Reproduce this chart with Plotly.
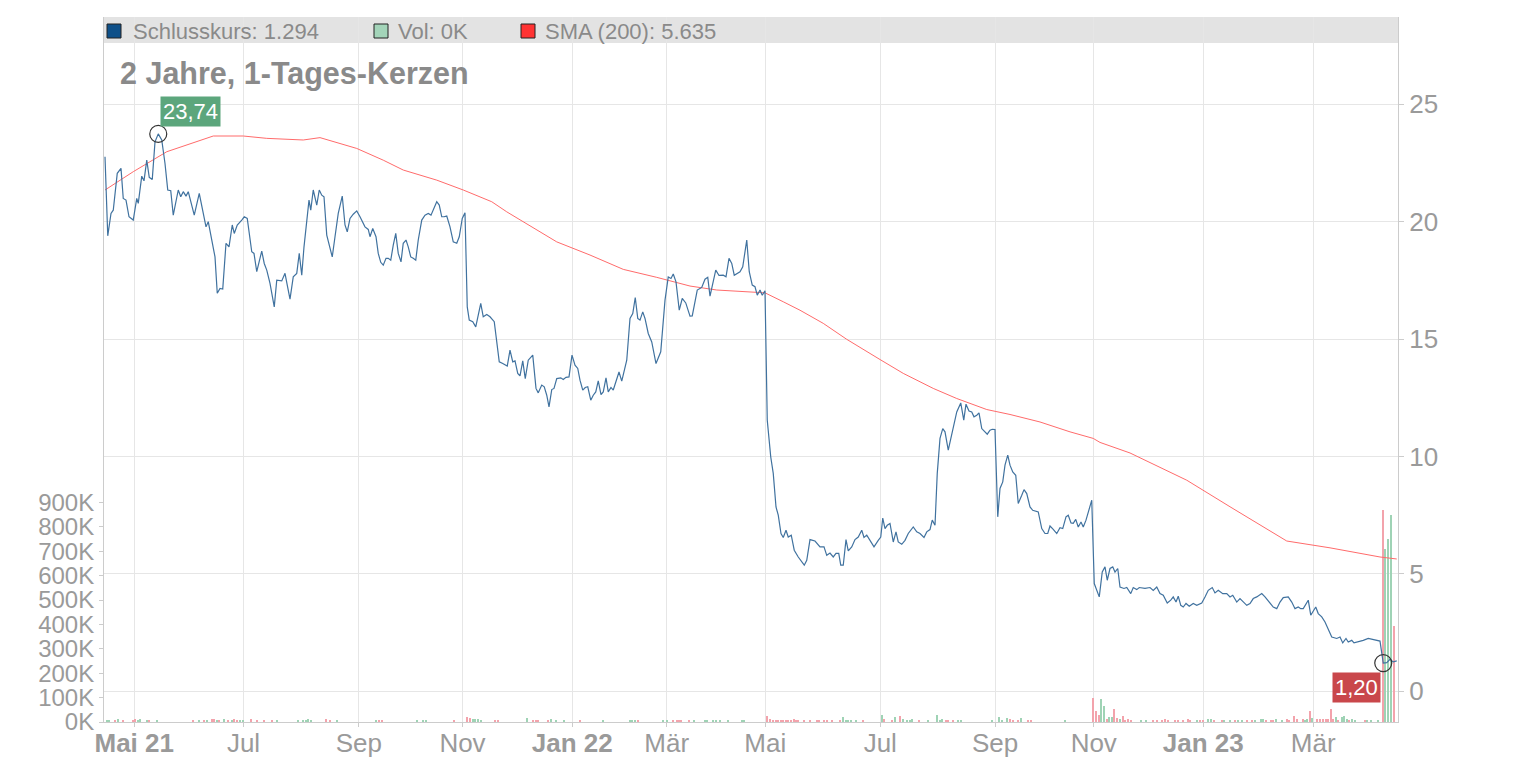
import plotly.graph_objects as go

# ---------------- data ----------------
# x unit = trading day index since the start of the 2-year window
price_day = [
    0.4, 1.5, 2.8, 3.7, 5.3, 6.8, 7.7, 8.8, 10.0, 11.7,
    13.1, 13.7, 15.1, 16.0, 17.1, 18.1, 19.3, 20.4, 21.7, 23.1,
    24.4, 25.5, 26.7, 27.7, 29.7, 30.7, 31.7, 32.8, 33.7, 36.1,
    38.1, 40.8, 41.7, 44.4, 45.3, 46.4, 47.5, 48.8, 50.0, 51.3,
    52.1, 53.3, 55.1, 56.1, 57.3, 59.1, 60.0, 61.1, 63.1, 64.1,
    65.1, 66.4, 68.1, 69.1, 71.1, 72.4, 73.3, 74.4, 75.7, 77.1,
    78.1, 79.1, 80.0, 81.1, 82.0, 82.7, 83.7, 85.1, 86.1, 87.1,
    88.0, 89.1, 90.1, 91.3, 92.4, 93.7, 95.3, 96.4, 97.3, 98.4,
    99.7, 101.1, 102.4, 104.4, 105.7, 106.4, 107.5, 108.8, 109.7, 110.7,
    111.7, 112.8, 113.7, 114.7, 115.7, 116.7, 117.7, 118.8, 119.7, 120.8,
    121.7, 122.7, 123.7, 124.7, 125.7, 127.1, 128.4, 129.7, 130.8, 132.1,
    133.1, 134.1, 135.1, 136.0, 137.1, 138.4, 139.7, 141.1, 142.1, 143.3,
    144.4, 145.3, 146.1, 147.5, 148.7, 150.7, 151.7, 153.1, 154.4, 156.1,
    157.1, 158.1, 159.5, 161.3, 162.4, 163.5, 164.4, 165.5, 166.4, 167.5,
    168.5, 169.7, 171.5, 172.8, 173.7, 175.1, 176.1, 177.1, 178.0, 179.1,
    180.0, 181.1, 182.7, 183.7, 184.8, 186.0, 187.2, 188.4, 189.5, 190.4,
    191.5, 192.5, 193.5, 194.7, 195.7, 196.7, 197.7, 198.8, 199.7, 200.8,
    201.7, 202.8, 203.7, 204.8, 206.0, 207.1, 208.4, 209.1, 210.4, 211.5,
    212.5, 213.5, 214.4, 215.5, 216.4, 217.7, 219.1, 220.8, 222.7, 224.4,
    225.7, 226.8, 227.7, 228.8, 230.1, 231.3, 232.7, 234.4, 235.3, 237.3,
    239.1, 240.4, 241.5, 242.4, 244.7, 246.0, 247.7, 248.8, 250.0, 251.1,
    252.1, 254.4, 255.5, 257.1, 258.1, 259.3, 260.4, 261.3, 262.4, 263.3,
    264.4, 265.3, 266.7, 267.7, 268.8, 269.7, 270.8, 271.7, 272.8, 273.7,
    274.9, 276.1, 277.7, 280.1, 281.1, 282.4, 284.4, 286.4, 288.0, 289.1,
    290.4, 291.7, 292.8, 293.9, 294.7, 295.7, 296.8, 297.7, 299.1, 300.4,
    301.7, 303.1, 304.0, 305.1, 306.4, 308.0, 309.7, 310.7, 311.5, 312.4,
    313.3, 314.4, 315.7, 316.8, 317.7, 319.1, 320.4, 321.7, 323.7, 325.1,
    326.4, 328.0, 329.1, 330.4, 331.3, 332.4, 333.3, 334.4, 335.5, 336.4,
    337.7, 338.8, 340.0, 341.1, 342.7, 343.9, 344.8, 346.0, 347.1, 348.0,
    349.1, 350.0, 351.1, 352.4, 353.3, 354.4, 355.3, 356.4, 357.5, 358.4,
    359.5, 360.4, 361.5, 362.4, 363.5, 364.7, 365.7, 367.1, 368.0, 369.1,
    370.4, 371.5, 373.7, 375.1, 376.4, 377.5, 378.4, 379.7, 381.1, 382.4,
    383.5, 384.8, 385.7, 386.8, 387.7, 388.7, 389.7, 390.8, 391.7, 392.8,
    395.1, 396.1, 398.1, 399.3, 400.4, 401.3, 402.4, 403.5, 404.4, 405.5,
    406.4, 408.0, 409.1, 410.7, 411.7, 413.1, 414.1, 416.4, 418.4, 419.7,
    421.1, 422.4, 423.7, 425.3, 426.7, 427.7, 428.8, 429.7, 430.7, 431.7,
    432.8, 434.1, 435.7, 437.1, 439.1, 440.4, 441.7, 443.3, 444.4, 445.7,
    447.5, 449.1, 450.4, 451.5, 453.1, 454.4, 455.7, 457.1, 458.4, 459.7,
    461.1, 463.1, 464.4, 466.4, 467.7, 469.1, 470.4, 471.7, 473.7, 475.1,
    476.4, 477.7, 478.7, 479.7, 480.8, 481.7, 482.7, 483.7, 484.7, 485.7,
    487.1, 488.4, 489.7, 491.1, 493.1, 494.4, 495.5, 496.8, 497.7, 499.1,
    500.0, 501.7, 503.7, 505.7, 508.4, 510.4, 511.7, 513.1, 514.4, 515.7,
    517.1,
]
price_close = [
    22.77, 19.40, 20.35, 20.49, 22.06, 22.27, 20.99, 20.92, 20.21, 20.07,
    20.99, 20.78, 21.94, 21.74, 22.62, 21.89, 21.80, 23.40, 23.74, 23.48,
    22.48, 21.35, 21.32, 20.28, 21.35, 21.06, 21.28, 21.09, 21.28, 20.28,
    21.21, 19.78, 20.00, 18.50, 16.95, 17.16, 17.13, 19.08, 18.93, 19.86,
    19.50, 19.86, 20.07, 20.21, 20.14, 18.72, 18.65, 17.87, 18.75, 18.22,
    17.94, 17.37, 16.37, 17.51, 17.48, 17.80, 17.30, 16.70, 17.65, 17.80,
    18.65, 17.72, 18.93, 20.07, 20.92, 20.49, 21.35, 20.71, 21.35, 21.13,
    21.06, 19.43, 19.00, 18.50, 19.36, 20.35, 21.09, 19.86, 19.57, 20.14,
    20.32, 20.46, 20.21, 19.78, 19.67, 19.36, 19.71, 19.36, 18.65, 18.27,
    18.15, 18.44, 18.44, 18.36, 19.00, 19.50, 18.65, 18.29, 19.08, 19.22,
    18.93, 18.50, 18.44, 18.36, 19.22, 20.07, 20.28, 20.35, 20.28, 20.64,
    20.85, 20.71, 20.21, 20.21, 20.24, 19.78, 19.14, 19.08, 19.36, 20.14,
    20.38, 16.37, 15.81, 15.74, 15.52, 16.52, 15.95, 16.05, 15.95, 15.74,
    14.81, 14.03, 13.96, 13.85, 14.53, 14.03, 14.07, 13.54, 13.43, 14.07,
    13.32, 14.10, 14.32, 12.90, 12.71, 13.04, 12.97, 12.61, 12.11, 12.85,
    12.90, 13.32, 13.35, 13.28, 13.37, 13.39, 14.32, 13.89, 13.75, 13.25,
    12.83, 12.94, 12.97, 12.40, 12.61, 12.75, 13.22, 12.64, 12.75, 13.35,
    12.75, 12.94, 12.83, 13.18, 13.60, 13.21, 13.75, 14.10, 15.88, 16.09,
    16.77, 15.88, 15.81, 16.16, 15.88, 15.24, 14.88, 13.96, 14.46, 16.66,
    17.65, 17.58, 17.77, 17.44, 16.23, 16.73, 16.54, 15.98, 15.99, 17.09,
    17.20, 17.55, 17.63, 16.83, 17.94, 17.71, 17.72, 17.65, 18.44, 18.22,
    17.72, 17.87, 18.08, 19.22, 17.87, 17.30, 17.23, 16.87, 17.09, 16.87,
    17.06, 11.55, 9.98, 9.28, 7.85, 7.50, 6.72, 6.55, 6.86, 6.57,
    6.65, 6.01, 5.72, 5.37, 5.58, 6.46, 6.40, 6.15, 6.15, 5.79,
    5.89, 5.72, 5.87, 5.87, 5.37, 5.37, 6.46, 5.98, 6.15, 6.46,
    6.57, 6.86, 6.55, 6.65, 6.43, 6.15, 6.43, 6.57, 7.38, 6.93,
    7.07, 7.15, 6.36, 6.79, 6.36, 6.26, 6.43, 6.72, 7.00, 6.79,
    6.72, 6.55, 6.79, 6.89, 7.29, 7.07, 9.28, 10.77, 11.19, 11.05,
    10.27, 10.84, 11.47, 11.90, 12.28, 11.55, 12.23, 11.94, 11.90, 11.69,
    11.76, 11.86, 11.19, 11.05, 10.95, 11.12, 11.16, 11.15, 7.43, 8.64,
    8.92, 9.63, 10.06, 9.63, 9.34, 9.20, 8.00, 8.35, 8.59, 8.42,
    7.85, 7.71, 7.64, 6.93, 6.72, 6.72, 7.04, 6.90, 6.72, 6.97,
    6.93, 7.43, 7.50, 7.17, 7.15, 7.32, 7.00, 7.21, 7.00, 7.29,
    8.14, 4.59, 4.02, 5.08, 5.30, 4.73, 5.23, 5.30, 5.08, 5.23,
    4.44, 4.38, 4.42, 4.16, 4.42, 4.33, 4.42, 4.38, 4.42, 4.30,
    4.44, 4.16, 4.09, 3.76, 3.88, 4.02, 3.80, 4.05, 3.66, 3.59,
    3.74, 3.62, 3.74, 3.66, 3.76, 4.02, 4.30, 4.42, 4.19, 4.30,
    4.16, 4.16, 4.02, 4.09, 3.80, 3.95, 3.80, 3.66, 3.74, 3.95,
    4.02, 4.16, 4.02, 3.74, 3.59, 3.52, 3.80, 3.99, 4.02, 3.80,
    3.52, 3.59, 3.52, 3.52, 3.74, 3.88, 3.24, 3.45, 3.59, 3.31,
    3.17, 2.95, 2.67, 2.31, 2.25, 2.31, 2.06, 2.25, 2.10, 2.17,
    2.06, 2.10, 2.17, 2.25, 2.17, 2.14, 1.20, 1.22, 1.36, 1.25,
    1.294,
]

sma_day = [0.4, 11.7, 25.1, 43.7, 55.7, 65.1, 79.7, 86.4, 101.1, 111.7,
           119.7, 133.1, 143.7, 155.1, 161.1, 171.7, 181.1, 194.4, 207.7, 221.1,
           234.4, 245.1, 255.7, 264.4, 271.7, 278.4, 287.7, 297.1, 310.4, 319.7,
           331.7, 341.1, 353.1, 362.4, 374.4, 386.4, 395.7, 398.4, 410.4, 422.4,
           433.1, 450.4, 462.4, 473.1, 490.4, 510.4, 517.1]
sma_val = [21.35, 22.13, 22.98, 23.65, 23.65, 23.55, 23.48, 23.58, 23.12, 22.62,
           22.20, 21.77, 21.35, 20.85, 20.42, 19.76, 19.14, 18.58, 17.97, 17.63,
           17.26, 17.09, 17.01, 16.97, 16.59, 16.23, 15.67, 14.99, 14.13, 13.54,
           12.90, 12.47, 12.00, 11.79, 11.47, 11.05, 10.77, 10.60, 10.15, 9.54,
           8.99, 7.86, 7.09, 6.40, 6.11, 5.72, 5.635]

vol_day = [
    1.1, 2.1, 4.4, 5.7, 7.5, 11.7, 12.5, 13.5, 14.4, 17.1,
    17.9, 21.3, 35.7, 37.9, 40.0, 41.1, 43.1, 44.0, 45.1, 46.1,
    48.1, 49.7, 51.1, 52.0, 53.1, 54.4, 55.7, 58.7, 61.1, 64.0,
    67.1, 69.1, 77.5, 79.7, 80.7, 81.7, 82.8, 88.8, 90.4, 93.1,
    108.8, 109.9, 111.2, 125.3, 127.7, 128.8, 140.0, 145.3, 146.4, 147.5,
    148.5, 149.6, 150.7, 156.4, 157.7, 169.3, 171.7, 172.8, 173.7, 177.5,
    178.8, 180.7, 184.1, 190.4, 199.7, 210.4, 211.3, 212.4, 213.5, 223.7,
    225.1, 227.7, 229.1, 230.1, 230.8, 234.1, 236.0, 240.4, 241.3, 243.5,
    244.8, 246.4, 249.7, 255.1, 256.0, 265.3, 266.4, 267.7, 268.8, 269.7,
    270.8, 271.7, 272.7, 273.7, 274.7, 276.0, 276.8, 277.7, 280.1, 282.4,
    285.1, 286.1, 288.1, 289.3, 291.3, 294.5, 295.5, 296.7, 297.7, 298.7,
    300.8, 303.7, 311.1, 312.1, 315.3, 316.4, 318.5, 319.5, 321.1, 322.4,
    323.1, 326.0, 329.7, 333.1, 334.4, 335.1, 336.7, 337.5, 339.5, 341.7,
    342.7, 355.1, 358.1, 359.2, 361.3, 362.4, 363.5, 365.7, 366.7, 369.7,
    370.8, 384.4, 395.7, 396.8, 397.9, 398.9, 400.0, 401.1, 402.1, 403.2,
    404.0, 405.3, 406.4, 407.5, 408.5, 409.6, 410.7, 414.7, 416.8, 419.7,
    421.1, 423.1, 424.4, 425.7, 428.4, 429.7, 431.7, 433.5, 434.4, 437.1,
    438.4, 439.7, 441.7, 442.8, 444.1, 447.1, 448.0, 450.4, 452.4, 453.7,
    455.1, 457.1, 459.1, 460.4, 462.7, 463.7, 464.8, 466.7, 467.7, 468.8,
    471.1, 473.1, 474.1, 476.1, 477.1, 479.5, 480.4, 481.3, 482.4, 483.3,
    485.3, 486.4, 487.5, 488.7, 489.7, 490.7, 491.7, 492.8, 493.7, 495.1,
    496.0, 497.1, 498.1, 499.2, 500.3, 504.4, 505.3, 506.7, 509.7, 511.5,
    512.5, 513.7, 514.9, 515.9,
]
vol_k = [
    8, 8, 5, 12, 5, 10, 11, 10, 11, 8,
    5, 5, 5, 5, 5, 5, 14, 11, 8, 7,
    11, 5, 10, 11, 8, 5, 7, 14, 5, 5,
    5, 8, 5, 8, 10, 11, 5, 12, 7, 5,
    5, 5, 5, 5, 5, 5, 5, 21, 15, 11,
    14, 14, 7, 5, 5, 16, 5, 5, 5, 5,
    12, 5, 5, 5, 5, 7, 10, 10, 5, 10,
    7, 7, 10, 7, 7, 5, 5, 5, 5, 10,
    7, 10, 5, 5, 5, 26, 14, 7, 7, 10,
    10, 10, 10, 7, 5, 12, 7, 8, 5, 5,
    5, 5, 5, 5, 5, 5, 21, 7, 10, 10,
    10, 5, 29, 14, 10, 21, 23, 14, 7, 10,
    12, 5, 5, 29, 10, 12, 5, 5, 5, 8,
    5, 8, 21, 10, 16, 14, 7, 5, 16, 5,
    5, 5, 100, 44, 30, 93, 67, 14, 19, 21,
    52, 16, 12, 26, 8, 12, 8, 8, 8, 5,
    5, 7, 11, 7, 5, 5, 5, 12, 5, 5,
    5, 5, 12, 14, 7, 7, 5, 5, 5, 5,
    5, 5, 5, 5, 11, 11, 7, 5, 8, 12,
    5, 14, 7, 25, 12, 14, 5, 12, 47, 18,
    12, 11, 11, 11, 12, 52, 14, 22, 10, 22,
    26, 12, 8, 12, 8, 5, 8, 7, 7, 869,
    711, 749, 848, 392,
]
vol_up = [
    1, 1, 0, 1, 0, 0, 0, 1, 1, 1,
    0, 1, 0, 1, 0, 1, 0, 0, 1, 0,
    1, 0, 1, 0, 0, 1, 1, 0, 0, 0,
    0, 1, 1, 1, 1, 1, 1, 0, 0, 1,
    1, 0, 0, 1, 1, 1, 0, 0, 0, 1,
    1, 1, 1, 0, 0, 1, 0, 0, 0, 0,
    1, 1, 1, 0, 1, 1, 1, 1, 0, 1,
    1, 0, 0, 0, 0, 0, 1, 1, 1, 1,
    1, 1, 1, 1, 1, 0, 0, 0, 0, 0,
    0, 0, 0, 0, 0, 0, 0, 0, 0, 0,
    0, 0, 0, 0, 0, 0, 1, 1, 1, 1,
    1, 0, 1, 0, 0, 1, 0, 1, 1, 1,
    1, 0, 1, 1, 1, 1, 0, 0, 0, 1,
    1, 1, 1, 1, 1, 0, 0, 0, 1, 0,
    0, 1, 0, 0, 0, 1, 1, 0, 1, 1,
    0, 0, 1, 0, 0, 0, 0, 1, 1, 0,
    0, 0, 0, 0, 0, 0, 0, 0, 0, 1,
    0, 0, 1, 1, 0, 0, 1, 1, 0, 1,
    1, 0, 0, 1, 1, 1, 0, 0, 0, 1,
    1, 0, 0, 0, 0, 0, 1, 1, 0, 1,
    0, 0, 0, 0, 0, 0, 0, 1, 0, 1,
    1, 1, 0, 1, 1, 0, 1, 1, 1, 0,
    1, 1, 1, 0,
]

tick_day = [12.1, 55.8, 101.9, 143.4, 187.3, 225.1, 264.5, 310.5, 356.4, 395.9, 439.7, 483.7]
tick_text = ["<b>Mai 21</b>", "Jul", "Sep", "Nov", "<b>Jan 22</b>", "Mär",
             "Mai", "Jul", "Sep", "Nov", "<b>Jan 23</b>", "Mär"]
price_ticks = [0, 5, 10, 15, 20, 25]
vol_ticks = [0, 100, 200, 300, 400, 500, 600, 700, 800, 900]
vol_tick_text = [f"{v}K" for v in vol_ticks]
title_text = "2 Jahre, 1-Tages-Kerzen"
vol_last_text = "Vol: 0K"

assert len(price_day) == len(price_close)
assert len(sma_day) == len(sma_val)
assert len(vol_day) == len(vol_k) == len(vol_up)

# ---------------- styling ----------------
FONT = "Liberation Sans, Arial, sans-serif"
TICK_GRAY = "#9a9a9a"
TEXT_GRAY = "#8a8a8a"
GRID = "#e6e6e6"
AXIS = "#cccccc"
PRICE_COLOR = "#40729f"
SMA_COLOR = "#ff6b6b"
VOL_GREEN = "#9fd3b5"
VOL_RED = "#f3a3ac"

W, H = 1536, 768
L, R, T, B = 104, 1398, 17, 722


def pxx(x):
    return (x - L) / (R - L)


def pxy(y):
    return (B - y) / (B - T)


fig = go.Figure()

fig.add_trace(go.Bar(
    x=vol_day, y=vol_k, yaxis="y", width=0.9,
    marker=dict(color=[VOL_GREEN if u else VOL_RED for u in vol_up], line_width=0),
    hoverinfo="skip",
))
fig.add_trace(go.Scatter(
    x=sma_day, y=sma_val, yaxis="y2", mode="lines",
    line=dict(color=SMA_COLOR, width=1), hoverinfo="skip",
))
fig.add_trace(go.Scatter(
    x=price_day, y=price_close, yaxis="y2", mode="lines",
    line=dict(color=PRICE_COLOR, width=1.2), hoverinfo="skip",
))

i_max = price_close.index(max(price_close))
i_min = price_close.index(min(price_close))
fig.add_trace(go.Scatter(
    x=[price_day[i_max], price_day[i_min]],
    y=[price_close[i_max], price_close[i_min]],
    yaxis="y2", mode="markers",
    marker=dict(symbol="circle-open", size=17, color="#333333", line=dict(width=1.2)),
    hoverinfo="skip",
))

annotations = [
    dict(x=price_day[i_max], y=price_close[i_max], xref="x", yref="y2",
         text=f"{price_close[i_max]:.2f}".replace(".", ","), showarrow=False,
         xanchor="left", yanchor="bottom", xshift=2, yshift=7,
         bgcolor="#5ca67c", borderpad=2,
         font=dict(family=FONT, size=22, color="white")),
    dict(x=price_day[i_min], y=price_close[i_min], xref="x", yref="y2",
         text=f"{price_close[i_min]:.2f}".replace(".", ","), showarrow=False,
         xanchor="right", yanchor="top", xshift=-2, yshift=-9,
         bgcolor="#c9474b", borderpad=2,
         font=dict(family=FONT, size=22, color="white")),
    dict(x=pxx(118), y=pxy(73), xref="paper", yref="paper", text=f"<b>{title_text}</b>",
         showarrow=False, xanchor="left", yanchor="middle",
         font=dict(family=FONT, size=30.5, color=TEXT_GRAY)),
    dict(x=pxx(131), y=pxy(31), xref="paper", yref="paper",
         text=f"Schlusskurs: {price_close[-1]:.3f}", showarrow=False,
         xanchor="left", yanchor="middle", font=dict(family=FONT, size=22, color=TEXT_GRAY)),
    dict(x=pxx(396), y=pxy(31), xref="paper", yref="paper",
         text=vol_last_text, showarrow=False,
         xanchor="left", yanchor="middle", font=dict(family=FONT, size=22, color=TEXT_GRAY)),
    dict(x=pxx(543), y=pxy(31), xref="paper", yref="paper",
         text=f"SMA (200): {sma_val[-1]:.3f}", showarrow=False,
         xanchor="left", yanchor="middle", font=dict(family=FONT, size=22, color=TEXT_GRAY)),
]

shapes = [
    dict(type="rect", xref="paper", yref="paper", x0=0, x1=1, y0=pxy(43), y1=1,
         fillcolor="#e3e3e3", line=dict(width=0), layer="below"),
]
for x0, col in [(107, "#0e5089"), (374, "#a3d4b9"), (521, "#ff3333")]:
    shapes.append(dict(type="rect", xref="paper", yref="paper",
                       x0=pxx(x0), x1=pxx(x0 + 14), y0=pxy(38), y1=pxy(24),
                       fillcolor=col, line=dict(color="#222222", width=1)))

price_per_px = 5 / 117.4
price_zero_px = 691.3
vol_per_px = 100 / 24.39

fig.update_layout(
    width=W, height=H, autosize=False,
    margin=dict(l=L, r=W - R, t=T, b=H - B, pad=0, autoexpand=False),
    paper_bgcolor="white", plot_bgcolor="white",
    showlegend=False, bargap=0,
    font=dict(family=FONT, color=TICK_GRAY),
    xaxis=dict(
        range=[0, (R - L) / 2.5], tickmode="array", tickvals=tick_day, ticktext=tick_text,
        showgrid=True, gridcolor=GRID, gridwidth=1, zeroline=False,
        showline=True, linecolor=AXIS, linewidth=1, automargin=False,
        ticks="outside", ticklen=4, tickcolor=AXIS, ticklabelstandoff=-6,
        tickfont=dict(family=FONT, size=26, color=TICK_GRAY),
    ),
    yaxis=dict(
        side="left", range=[0, (B - T) * vol_per_px], automargin=False,
        tickmode="array", tickvals=vol_ticks, ticktext=vol_tick_text,
        showgrid=False, zeroline=False, showline=True, linecolor=AXIS, linewidth=1,
        ticks="outside", ticklen=4, tickcolor=AXIS,
        tickfont=dict(family=FONT, size=24, color=TICK_GRAY),
    ),
    yaxis2=dict(
        overlaying="y", side="right", automargin=False,
        range=[-(B - price_zero_px) * price_per_px, (price_zero_px - T) * price_per_px],
        tickmode="array", tickvals=price_ticks,
        showgrid=True, gridcolor=GRID, gridwidth=1, zeroline=False,
        showline=True, linecolor=AXIS, linewidth=1,
        ticks="outside", ticklen=5, tickcolor=AXIS,
        tickfont=dict(family=FONT, size=26, color=TICK_GRAY),
    ),
    annotations=annotations,
    shapes=shapes,
)

fig.write_html("out.html")
